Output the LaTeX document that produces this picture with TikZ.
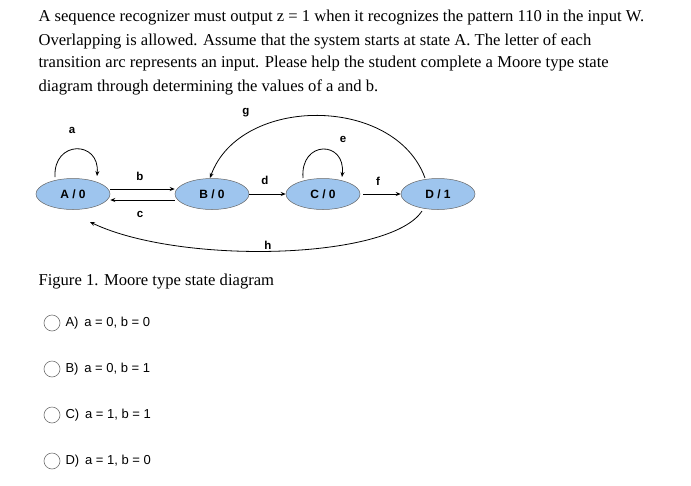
\documentclass[tikz,border=0pt]{standalone}
\usepackage{fontspec}
\setmainfont{Liberation Serif}
\newfontfamily\lsans{Liberation Sans}
\usetikzlibrary{arrows.meta,shapes.geometric}
\definecolor{stfill}{RGB}{158,197,238}
\begin{document}
\begin{tikzpicture}[x=1pt,y=-1pt,
  st/.style={ellipse,draw=black!60,fill=stfill,line width=0.5pt,minimum width=74pt,minimum height=31pt,inner sep=0pt,font=\lsans\bfseries\fontsize{12}{12}\selectfont},
  lbl/.style={font=\lsans\bfseries\fontsize{11.5}{11.5}\selectfont},
  ar/.style={-{Stealth[length=5pt,width=4pt]},line width=0.8pt},
  body/.style={anchor=west,font=\fontsize{16.6}{18}\selectfont},
  opt/.style={anchor=west,font=\lsans\fontsize{13}{14}\selectfont},
  rb/.style={circle,draw=black!55,line width=0.6pt,minimum size=16pt,inner sep=0pt}]
\useasboundingbox (0,0) rectangle (691,485);
\node[body] (t1) at (35,18) {A sequence recognizer must output z = 1 when it recognizes the pattern 110 in the input W.};
\node[body] (t2) at (35,41) {Overlapping is allowed. Assume that the system starts at state A. The letter of each};
\node[body] (t3) at (35,64) {transition arc represents an input. Please help the student complete a Moore type state};
\node[body] (t4) at (35,87) {diagram through determining the values of a and b.};
\node[st] (A) at (73,194) {A / 0};
\node[st] (B) at (212,194) {B / 0};
\node[st] (C) at (323,194) {C / 0};
\node[st] (D) at (438,194) {D / 1};
\draw[ar] (55,177) .. controls (53,140) and (100,140) .. (97,176);
\node[lbl] (la) at (72,130) {a};
\draw[ar] ([yshift=5pt]A.east) -- ([yshift=5pt]B.west);
\draw[ar] ([yshift=-6pt]B.west) -- ([yshift=-6pt]A.east);
\node[lbl] (lb) at (140,176) {b};
\node[lbl] (lc) at (140,214) {c};
\draw[ar] (B.east) -- (C.west);
\node[lbl] (ld) at (265,180) {d};
\draw[ar] (303,178) .. controls (300,140) and (346,140) .. (342,177);
\node[lbl] (le) at (343,139) {e};
\draw[ar] ([xshift=3pt]C.east) -- (D.west);
\node[lbl] (lf) at (378,181) {f};
\draw[ar] (425,178) .. controls (395,95) and (240,95) .. (210,178);
\node[lbl] (lg) at (246,113) {g};
\draw[ar] (422,211) .. controls (390,260) and (180,265) .. (90,222);
\node[lbl] (lh) at (268,245) {h};
\node[body] (fig) at (35,282) {Figure 1. Moore type state diagram};
\node[rb] (r1) at (52,323) {}; \node[opt] (o1) at (62,323) {A)\, a = 0, b = 0};
\node[rb] (r2) at (52,369) {}; \node[opt] (o2) at (62,369) {B)\, a = 0, b = 1};
\node[rb] (r3) at (52,415) {}; \node[opt] (o3) at (62,415) {C)\, a = 1, b = 1};
\node[rb] (r4) at (52,461) {}; \node[opt] (o4) at (62,461) {D)\, a = 1, b = 0};
\end{tikzpicture}
\end{document}
